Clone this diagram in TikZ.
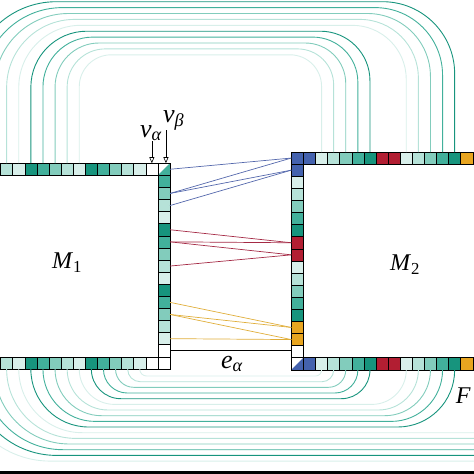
\documentclass[tikz,border=0pt]{standalone}
\usepackage{fontspec}
\setmainfont{Liberation Serif}
\usetikzlibrary{arrows.meta}
\definecolor{tdark}{HTML}{17947D}
\definecolor{tmed}{HTML}{42B09B}
\definecolor{tmedl}{HTML}{82CCBC}
\definecolor{tlight}{HTML}{B6E2D8}
\definecolor{tvlight}{HTML}{D8EFEA}
\definecolor{tblue}{HTML}{4462AE}
\definecolor{tred}{HTML}{B21E32}
\definecolor{torange}{HTML}{E8A520}
\definecolor{tbrown}{HTML}{825A14}
\definecolor{wblue}{HTML}{5468AC}
\definecolor{wred}{HTML}{A52A45}
\definecolor{wyellow}{HTML}{E0AE3A}
\def\bandwire[#1](#2)(#3:#4:#5)(#6){\draw[wire, #1] (#2) [rounded corners=#4pt] |- (230, #3) [rounded corners=#5pt] -| (#6);}

\begin{document}
\begin{tikzpicture}[x=1pt, y=1pt,
	cell/.style={draw, line width=0.6pt, minimum size=12.1pt, inner sep=0pt, outer sep=0pt},
	wire/.style={line width=0.9pt},
	link/.style={line width=0.7pt},
	lbl/.style={inner sep=0pt, font=\fontsize{26}{30}\selectfont},
	pin/.style={line width=0.6pt, -{Triangle[open, length=6pt, width=5pt]}}]
			%%%%% START %%%%%
			\useasboundingbox (0, -474) rectangle (474, 0);
			\clip (0, -474) rectangle (474, 0);
			
			% wrap-around ends
			\coordinate (m1t-x1) at (-5.45, -163.2);
			\coordinate (m1t-x2) at (-17.55, -163.2);
			\coordinate (m1t-x3) at (-29.65, -163.2);
			\coordinate (m1b-x1) at (-5.45, -368.9);
			\coordinate (m1b-x2) at (-17.55, -368.9);
			\coordinate (m1b-x3) at (-29.65, -368.9);
			\coordinate (m1b-x4) at (-41.75, -368.9);
			\foreach \y [count=\j from 10] in {-432.7, -438.4, -444.0, -449.7, -455.4, -461.1}
				\coordinate (out-\j) at (480, \y);
			
			% cells
			\foreach \c [count=\i from 0] in {tlight,tvlight,tdark,tmed,tmedl,tlight,tvlight,tdark,tmed,tmedl,tlight,tvlight,white}{
				\node[cell, fill=\c] (m1t-\i) at ({6.65+12.1*\i}, -169.25) {};
				\node[cell, fill=\c] (m1b-\i) at ({6.65+12.1*\i}, -362.85) {};
			}
			\fill[tmed] (157.9, -175.3) -- (170, -175.3) -- (170, -163.2) -- cycle;
			\node[cell] (m1t-13) at (163.95, -169.25) {};
			\node[cell, fill=white] (m1b-13) at (163.95, -362.85) {};
			\foreach \c [count=\r from 0] in {tmed,tmedl,tlight,tvlight,tdark,tmed,tmedl,tlight,tvlight,tdark,tmed,tmedl,tlight,tvlight,white}
				\node[cell, fill=\c] (m1s-\r) at (163.95, {-181.35-12.1*\r}) {};
			
			\foreach \c [count=\k from 1] in {tblue,tvlight,tlight,tmedl,tmed,tdark,tred,tred,tvlight,tlight,tmedl,tmed,tdark,torange,tbrown}{
				\node[cell, fill=\c] (m2t-\k) at ({297.35+12.1*\k}, -158.05) {};
				\node[cell, fill=\c] (m2b-\k) at ({297.35+12.1*\k}, -363.75) {};
			}
			\node[cell, fill=tblue] (m2t-0) at (297.35, -158.05) {};
			\fill[tblue] (291.3, -369.8) -- (303.4, -369.8) -- (303.4, -357.7) -- cycle;
			\node[cell] (m2b-0) at (297.35, -363.75) {};
			\foreach \c [count=\r from 0] in {tblue,tvlight,tlight,tmedl,tmed,tdark,tred,tred,tvlight,tlight,tmedl,tmed,tdark,torange,torange,white}
				\node[cell, fill=\c] (m2s-\r) at (297.35, {-170.15-12.1*\r}) {};
			
			% upper wires
			\bandwire[tdark](m1t-x3)(-1.7:86:72)(m2t-13.north)
			\bandwire[tmed](m1t-x2)(-7.6:80:67.5)(m2t-12.north)
			\bandwire[tmedl](m1t-x1)(-13.5:74:63)(m2t-11.north)
			\bandwire[tlight](m1t-0.north)(-19.4:68:58.5)(m2t-10.north)
			\bandwire[tvlight](m1t-1.north)(-25.3:62:54)(m2t-9.north)
			\bandwire[tdark](m1t-2.north)(-31.2:56:49.5)(m2t-6.north)
			\bandwire[tmed](m1t-3.north)(-37.1:50:45)(m2t-5.north)
			\bandwire[tmedl](m1t-4.north)(-43.0:44:40.5)(m2t-4.north)
			\bandwire[tlight](m1t-5.north)(-48.9:38:36)(m2t-3.north)
			\bandwire[tvlight](m1t-6.north)(-54.8:32:31.5)(m2t-2.north)
			
			% lower wires
			\bandwire[tvlight](m1b-11.south)(-376.0:6.8:5.9)(m2b-2.south)
			\bandwire[tlight](m1b-10.south)(-381.7:12.5:11.6)(m2b-3.south)
			\bandwire[tmedl](m1b-9.south)(-387.3:18.1:17.2)(m2b-4.south)
			\bandwire[tmed](m1b-8.south)(-393.0:23.8:22.9)(m2b-5.south)
			\bandwire[tdark](m1b-7.south)(-398.7:29.5:28.6)(m2b-6.south)
			\bandwire[tvlight](m1b-6.south)(-404.4:35.2:34.3)(m2b-9.south)
			\bandwire[tlight](m1b-5.south)(-410.0:40.8:39.9)(m2b-10.south)
			\bandwire[tmedl](m1b-4.south)(-415.7:46.5:45.6)(m2b-11.south)
			\bandwire[tmed](m1b-3.south)(-421.4:52.2:51.3)(m2b-12.south)
			\bandwire[tdark](m1b-2.south)(-427.0:57.8:56.9)(m2b-13.south)
			\draw[wire, tvlight] (m1b-1.south) [rounded corners=63.5pt] |- (out-10);
			\draw[wire, tlight] (m1b-0.south) [rounded corners=69.2pt] |- (out-11);
			\draw[wire, tmedl] (m1b-x1) [rounded corners=74.8pt] |- (out-12);
			\draw[wire, tmed] (m1b-x2) [rounded corners=80.5pt] |- (out-13);
			\draw[wire, tdark] (m1b-x3) [rounded corners=86.2pt] |- (out-14);
			\draw[wire, tvlight] (m1b-x4) [rounded corners=91.9pt] |- (out-15);
			
			% links between the two sides
			\draw[link, wblue] (m1t-13.east) -- (m2t-0.west);
			\draw[link, wblue] (m1s-1.east) -- (m2t-0.west);
			\draw[link, wblue] (m1s-1.east) -- (m2s-0.west);
			\draw[link, wblue] (m1s-2.east) -- (m2s-0.west);
			\draw[link, wred] (m1s-4.east) -- (m2s-6.west);
			\draw[link, wred] (m1s-5.east) -- (m2s-6.west);
			\draw[link, wred] (m1s-5.east) -- (m2s-7.west);
			\draw[link, wred] (m1s-7.east) -- (m2s-7.west);
			\draw[link, wyellow] (m1s-10.east) -- (m2s-13.west);
			\draw[link, wyellow] (m1s-11.east) -- (m2s-13.west);
			\draw[link, wyellow] (m1s-11.east) -- (m2s-14.west);
			\draw[link, wyellow] (m1s-13.east) -- (m2s-14.west);
			
			\draw[line width=0.8pt] (m1s-14.east) -- (m1s-14.east -| m2s-15.west);
			\node[lbl] (ea) at (232, -364) {\textit{e}\textsubscript{\textit{α}}};
			
			% labels
			\node[lbl, font=\fontsize{24}{28}\selectfont] (ma) at (67, -263) {\textit{M}\textsubscript{1}};
			\node[lbl, font=\fontsize{24}{28}\selectfont] (mb) at (405, -265) {\textit{M}\textsubscript{2}};
			\node[lbl, font=\fontsize{24}{28}\selectfont, anchor=base east] (fb) at (471, -403) {\textit{F}};
			\node[lbl, anchor=base west] (va) at (140, -137) {\textit{v}\textsubscript{\textit{α}}};
			\node[lbl, anchor=base west] (vb) at (163, -122) {\textit{v}\textsubscript{\textit{β}}};
			\draw[pin] (va.south -| m1t-12.north) -- (m1t-12.north);
			\draw[pin] ([xshift=2pt]vb.south -| m1t-13.north) -- ([xshift=2pt]m1t-13.north);
			
			\draw[line width=3pt] (0, -472.5) -- (474, -472.5);
			%%%%% END %%%%%
\end{tikzpicture}
\end{document}
